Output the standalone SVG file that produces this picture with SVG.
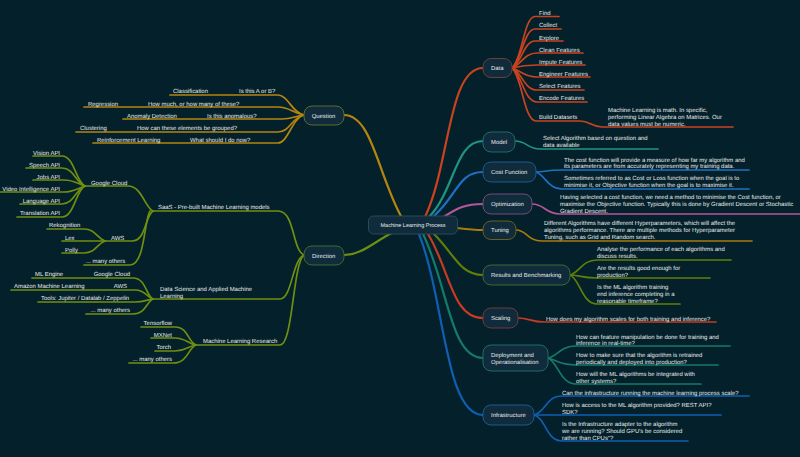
<svg xmlns="http://www.w3.org/2000/svg" width="800" height="457" viewBox="0 0 800 457">
<style>
text{font-family:"Liberation Sans",Arial,sans-serif;font-size:5.95px;fill:#e9ebe8;text-rendering:geometricPrecision}
.e{text-anchor:end}
path{fill:none;stroke-linecap:round;stroke-linejoin:round}
.c path{stroke-width:1.7}
.c path.w{stroke-width:2.2}
.q{stroke:#b5850f}.d{stroke:#6f8f10}.r{stroke:#c9431f}.m{stroke:#1f9582}.b{stroke:#1f70c4}.p{stroke:#b5569c}.t{stroke:#a87b0c}.g{stroke:#5f7f08}.s{stroke:#c93a22}.y{stroke:#157a68}.i{stroke:#0f5fb2}
.n rect{fill:#0f2b3c;stroke-width:1}
.n text{font-size:5.9px}
#root text{font-size:5.5px}
</style>
<rect width="800" height="457" fill="#03202b"/>
<g id="connectors" class="c">
<path class="q w" d="M344,115 C372,115 378,175 402,218"/>
<path class="q" d="M304,115 C292,113 288,95 278,95 H170"/>
<path class="q" d="M304,115 C292,113 290,107 278,107 H84"/>
<path class="q" d="M304,115 C295,116 292,119 282,119 H123"/>
<path class="q" d="M304,115 C292,117 290,132 278,132 H76"/>
<path class="q" d="M304,115 C292,118 288,143 278,143 H93"/>
<path class="d w" d="M344,255 C362,255 375,241 392,233"/>
<path class="d" d="M304,255 C292,250 295,211 278,211 H153"/>
<path class="d" d="M304,255 C292,260 292,299 280,299 H153"/>
<path class="d" d="M304,255 C293,262 293,345 280,345 H196"/>
<path class="d" d="M153,211 C145,208 142,186 128,186 H85"/>
<path class="d" d="M153,211 C145,216 146,241 132,241 H105"/>
<path class="d" d="M150,211 C144,220 145,265 130,265 H84"/>
<path class="d" d="M85,186 C76,182 74,156 62,156 H33"/>
<path class="d" d="M85,186 C76,183 74,168 62,168 H26"/>
<path class="d" d="M85,186 C78,184 74,180 64,180 H33"/>
<path class="d" d="M85,186 C78,188 74,192 64,192 H0"/>
<path class="d" d="M85,186 C76,189 74,204 62,204 H20"/>
<path class="d" d="M85,186 C76,190 74,217 62,217 H17"/>
<path class="d" d="M105,241 C96,238 96,229 84,229 H47"/>
<path class="d" d="M105,241 H62"/>
<path class="d" d="M105,241 C96,244 96,253 84,253 H62"/>
<path class="d" d="M153,299 C146,296 146,278 133,278 H32"/>
<path class="d" d="M153,299 C146,297 146,290 135,290 H11"/>
<path class="d" d="M153,299 C146,300 144,302 135,302 H38"/>
<path class="d" d="M153,299 C146,302 146,314 133,314 H86"/>
<path class="d" d="M196,345 C188,342 188,327 175,327 H141"/>
<path class="d" d="M196,345 C188,344 186,338 175,338 H151"/>
<path class="d" d="M196,345 C188,346 186,351 175,351 H155"/>
<path class="d" d="M196,345 C188,348 188,363 173,363 H129"/>
<path class="r w" d="M425,217 C450,165 448,68 483,68"/>
<path class="m w" d="M429,217 C455,190 455,141 483,141"/>
<path class="b w" d="M433,217 C458,195 458,172 483,172"/>
<path class="p w" d="M445,216 C458,208 465,204 483,204"/>
<path class="t w" d="M457,228 C465,229 472,230 483,230"/>
<path class="g w" d="M434,234 C455,255 460,275 483,275"/>
<path class="s w" d="M428,234 C450,270 452,318 483,318"/>
<path class="y w" d="M423,234 C448,285 450,358 483,358"/>
<path class="i w" d="M419,234 C445,300 445,415 483,415"/>
<path class="r" d="M512,68 C522,60 524,16.500 535,16.500 H559"/>
<path class="r" d="M512,68 C522,60 524,29 535,29 H561"/>
<path class="r" d="M512,68 C522,62 524,41 535,41 H563"/>
<path class="r" d="M512,68 C522,64 524,53 537,53 H583"/>
<path class="r" d="M512,68 C520,66 524,65 537,65 H585"/>
<path class="r" d="M512,68 C520,70 524,77 537,77 H590"/>
<path class="r" d="M512,68 C522,72 524,90 537,90 H584"/>
<path class="r" d="M512,68 C522,74 524,102 537,102 H587"/>
<path class="r" d="M512,68 C522,76 524,121 536,121 H580 C590,121 592,127 602,127 H733"/>
<path class="m" d="M515,141 C527,141 527,149 540,149 H658"/>
<path class="b" d="M536,172 C545,172 545,170 562,170 H749"/>
<path class="b" d="M536,172 C545,175 548,189 562,189 H749"/>
<path class="p" d="M532,204 C545,204 545,214 560,214 H800"/>
<path class="t" d="M516,230 C527,230 527,241 542,241 H752"/>
<path class="g" d="M570,275 C580,272 582,260 597,260 H731"/>
<path class="g" d="M570,275 C578,275 582,278 597,278 H710"/>
<path class="g" d="M570,275 C580,279 582,304 597,304 H680"/>
<path class="s" d="M518,318 C530,318 530,322 545,322 H716"/>
<path class="y" d="M548,358 C558,356 560,346 576,346 H730"/>
<path class="y" d="M548,358 C556,360 560,365 576,365 H718"/>
<path class="y" d="M548,358 C558,362 560,384 576,384 H701"/>
<path class="i" d="M534,415 C546,412 546,396 562,396 H749"/>
<path class="i" d="M534,415 H721"/>
<path class="i" d="M534,415 C546,418 546,441 562,441 H688"/>
</g>
<g class="n">
<g id="root"><rect x="368.500" y="216" width="89" height="18" rx="5" stroke="#2b4a58"/><text x="380.500" y="227">Machine Learning Process</text></g>
<g id="question"><rect x="304" y="106" width="40" height="19" rx="8" stroke="#5f6b2a"/><text x="311.700" y="117.500">Question</text></g>
<g id="direction"><rect x="304" y="246" width="40" height="19" rx="8" stroke="#3f6a30"/><text x="312" y="257.500">Direction</text></g>
<g id="data"><rect x="483" y="58.500" width="29" height="19" rx="8" stroke="#6a4036"/><text x="491" y="70">Data</text></g>
<g id="model"><rect x="483" y="132" width="32" height="20" rx="8" stroke="#1f6d68"/><text x="491" y="143.500">Model</text></g>
<g id="cost-function"><rect x="483" y="162" width="53" height="20" rx="8" stroke="#1f5a8c"/><text x="491" y="174.300">Cost Function</text></g>
<g id="optimization"><rect x="483" y="194" width="49" height="20" rx="8" stroke="#744b7a"/><text x="491" y="206">Optimization</text></g>
<g id="tuning"><rect x="483" y="221" width="33" height="18.500" rx="8" stroke="#6a5f1e"/><text x="491" y="232">Tuning</text></g>
<g id="results"><rect x="483" y="265" width="87" height="20" rx="8" stroke="#3f6a30"/><text x="491" y="277">Results and Benchmarking</text></g>
<g id="scaling"><rect x="483" y="308" width="35" height="20" rx="8" stroke="#6e3a3c"/><text x="491" y="320.300">Scaling</text></g>
<g id="deployment"><rect x="483" y="345" width="65" height="26" rx="8" stroke="#1f6d68"/><text x="491" y="356.800">Deployment and</text><text x="491" y="363.500">Operationalisation</text></g>
<g id="infrastructure"><rect x="483" y="405" width="51" height="20" rx="8" stroke="#1f5a8c"/><text x="491" y="417">Infrastructure</text></g>
</g>
<g id="labels-question">
<text x="173" y="93.200">Classification</text><text x="239" y="93.200">Is this A or B?</text>
<text x="88" y="105.500">Regression</text><text x="148" y="105.500">How much, or how many of these?</text>
<text x="127" y="117.500">Anomaly Detection</text><text x="207" y="117.500">Is this anomalous?</text>
<text x="80" y="130">Clustering</text><text x="137" y="130">How can these elements be grouped?</text>
<text x="97" y="142">Reinforcement Learning</text><text x="190" y="142">What should I do now?</text>
</g>
<g id="labels-direction">
<text x="158" y="209">SaaS - Pre-built Machine Learning models</text>
<text x="91" y="184.500">Google Cloud</text>
<text class="e" x="60" y="154.500">Vision API</text>
<text class="e" x="60" y="166.500">Speech API</text>
<text class="e" x="60" y="178.500">Jobs API</text>
<text class="e" x="60" y="190.500">Video Intelligence API</text>
<text class="e" x="60" y="203">Language API</text>
<text class="e" x="60" y="215">Translation API</text>
<text x="111" y="239.500">AWS</text>
<text x="49" y="227.200">Rekognition</text>
<text x="65" y="239.500">Lex</text>
<text x="65" y="251.500">Polly</text>
<text x="86" y="263.300">... many others</text>
<text x="160" y="291.200">Data Science and Applied Machine</text>
<text x="160" y="298">Learning</text>
<text x="35" y="275.800">ML Engine</text>
<text class="e" x="130" y="275.800">Google Cloud</text>
<text x="14" y="288">Amazon Machine Learning</text>
<text class="e" x="127" y="288">AWS</text>
<text x="41" y="300.300">Tools: Jupiter / Datalab / Zeppelin</text>
<text class="e" x="130" y="312.300">... many others</text>
<text x="203" y="343.200">Machine Learning Research</text>
<text class="e" x="172" y="324.800">Tensorflow</text>
<text class="e" x="172" y="336.800">MXNet</text>
<text class="e" x="171" y="349">Torch</text>
<text class="e" x="172" y="361.300">... many others</text>
</g>
<g id="labels-data">
<text x="539" y="15">Find</text>
<text x="539" y="27">Collect</text>
<text x="539" y="39.500">Explore</text>
<text x="539" y="51.500">Clean Features</text>
<text x="539" y="63.500">Impute Features</text>
<text x="539" y="75.500">Engineer Features</text>
<text x="539" y="88">Select Features</text>
<text x="539" y="100">Encode Features</text>
<text x="539" y="119">Build Datasets</text>
<text x="608" y="112.200">Machine Learning is math. In specific,</text>
<text x="608" y="119">performing Linear Algebra on Matrices. Our</text>
<text x="608" y="126">data values must be numeric.</text>
</g>
<g id="labels-right">
<text x="543" y="140.300">Select Algorithm based on question and</text>
<text x="543" y="147.200">data available</text>
<text x="564" y="161.500">The cost function will provide a measure of how far my algorithm and</text>
<text x="564" y="168.300">its parameters are from accurately representing my training data.</text>
<text x="564" y="180">Sometimes referred to as Cost or Loss function when the goal is to</text>
<text x="564" y="187">minimise it, or Objective function when the goal is to maximise it.</text>
<text x="560" y="199">Having selected a cost function, we need a method to minimise the Cost function, or</text>
<text x="560" y="206">maximise the Objective function. Typically this is done by Gradient Descent or Stochastic</text>
<text x="560" y="213">Gradient Descent.</text>
<text x="544" y="225">Different Algorithms have different Hyperparameters, which will affect the</text>
<text x="544" y="232">algorithms performance. There are multiple methods for Hyperparameter</text>
<text x="544" y="239">Tuning, such as Grid and Random search.</text>
<text x="597" y="250.500">Analyse the performance of each algorithms and</text>
<text x="597" y="258">discuss results.</text>
<text x="597" y="270">Are the results good enough for</text>
<text x="597" y="277">production?</text>
<text x="597" y="289">Is the ML algorithm training</text>
<text x="597" y="296">end inference completing in a</text>
<text x="597" y="302.500">reasonable timeframe?</text>
<text x="546" y="320.500">How does my algorithm scales for both training and inference?</text>
<text x="576" y="338.500">How can feature manipulation be done for training and</text>
<text x="576" y="345">inference in real-time?</text>
<text x="576" y="357">How to make sure that the algorithm is retrained</text>
<text x="576" y="364">periodically and deployed into production?</text>
<text x="576" y="375.700">How will the ML algorithms be integrated with</text>
<text x="576" y="382.500">other systems?</text>
<text x="562" y="394.700">Can the infrastructure running the machine learning process scale?</text>
<text x="562" y="406.800">How is access to the ML algorithm provided? REST API?</text>
<text x="562" y="413.500">SDK?</text>
<text x="562" y="425.800">Is the Infrastructure adapter to the algorithm</text>
<text x="562" y="432.800">we are running? Should GPU's be considered</text>
<text x="562" y="439.500">rather than CPUs"?</text>
</g>
</svg>
